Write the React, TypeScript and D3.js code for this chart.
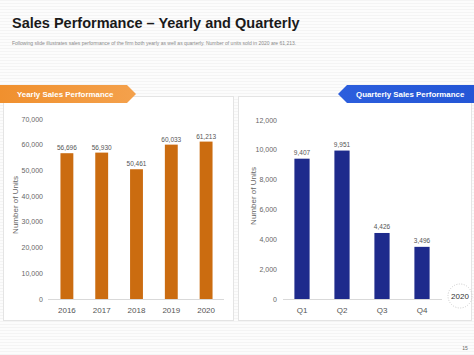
import React from "react";
import * as d3 from "d3";

const years = ["2016", "2017", "2018", "2019", "2020"];
const yearlyUnits = [56696, 56930, 50461, 60033, 61213];
const yearlyTicks = [0, 10000, 20000, 30000, 40000, 50000, 60000, 70000];

const quarters = ["Q1", "Q2", "Q3", "Q4"];
const quarterlyUnits = [9407, 9951, 4426, 3496];
const quarterlyTicks = [0, 2000, 4000, 6000, 8000, 10000, 12000];

const FONT = "'Liberation Sans', Arial, sans-serif";
const fmt = d3.format(",");

export default function App() {
  const W = 474, H = 355;

  const xL = d3.scaleBand<string>().domain(years).range([49.5, 223.5]).paddingInner(0.63).paddingOuter(0.315);
  const yL = d3.scaleLinear().domain([0, 70000]).range([299, 119]);
  const xR = d3.scaleBand<string>().domain(quarters).range([282, 442]).paddingInner(0.62).paddingOuter(0.31);
  const yR = d3.scaleLinear().domain([0, 12000]).range([299, 120]);

  const stripes = d3.range(0, H, 3);

  return (
    <svg width={W} height={H} style={{ position: "absolute", left: 0, top: 0, display: "block" }} fontFamily={FONT}>
      <rect x={0} y={0} width={W} height={H} fill="#fcfcfc" />
      {stripes.map((y) => (
        <line key={y} x1={0} x2={W} y1={y + 0.5} y2={y + 0.5} stroke="#f4f4f4" strokeWidth={1} />
      ))}

      <text x={12} y={28} fontSize={14.5} fontWeight="bold" fill="#1a1a1a">Sales Performance – Yearly and Quarterly</text>
      <text x={12} y={44.5} fontSize={5} fill="#8a8a8a">Following slide illustrates sales performance of the firm both yearly as well as quarterly. Number of units sold in 2020 are 61,213.</text>

      <rect x={3.5} y={96.5} width={230} height={224} fill="#ffffff" stroke="#e4e4e4" />
      <rect x={238.5} y={96.5} width={233} height={224} fill="#ffffff" stroke="#e4e4e4" />

      <defs>
        <linearGradient id="og" x1="0" x2="1" y1="0" y2="0">
          <stop offset="0" stopColor="#F0902E" />
          <stop offset="1" stopColor="#F4A14C" />
        </linearGradient>
        <linearGradient id="bg" x1="0" x2="1" y1="0" y2="0">
          <stop offset="0" stopColor="#2C5EDD" />
          <stop offset="1" stopColor="#2456D6" />
        </linearGradient>
      </defs>
      <path d="M0,85 L127,85 L136,94 L127,103 L0,103 Z" fill="url(#og)" />
      <text x={17} y={97} fontSize={7.9} fontWeight="bold" fill="#ffffff">Yearly Sales Performance</text>

      <path d="M474,85 L347,85 L338,94 L347,103 L474,103 Z" fill="url(#bg)" />
      <text x={356} y={97} fontSize={7.9} fontWeight="bold" fill="#ffffff">Quarterly Sales Performance</text>

      {/* Left chart */}
      <line x1={48} x2={224} y1={299.5} y2={299.5} stroke="#d9d9d9" />
      {yearlyTicks.map((t) => (
        <text key={t} x={43} y={yL(t) + 2.5} fontSize={7} fill="#666" textAnchor="end">{fmt(t)}</text>
      ))}
      <text transform={`translate(17.5,205) rotate(-90)`} fontSize={8} fill="#666" textAnchor="middle">Number of Units</text>
      {years.map((yr, i) => (
        <g key={yr}>
          <rect x={xL(yr)} y={yL(yearlyUnits[i])} width={xL.bandwidth()} height={yL(0) - yL(yearlyUnits[i])} fill="#CB6C10" />
          <text x={xL(yr)! + xL.bandwidth() / 2} y={yL(yearlyUnits[i]) - 3} fontSize={6.5} fill="#555" textAnchor="middle">{fmt(yearlyUnits[i])}</text>
          <text x={xL(yr)! + xL.bandwidth() / 2} y={313} fontSize={8} fill="#555" textAnchor="middle">{yr}</text>
        </g>
      ))}

      {/* Right chart */}
      <line x1={283} x2={442} y1={299.5} y2={299.5} stroke="#d9d9d9" />
      {quarterlyTicks.map((t) => (
        <text key={t} x={277} y={yR(t) + 2.5} fontSize={7} fill="#666" textAnchor="end">{fmt(t)}</text>
      ))}
      <text transform={`translate(255.5,196) rotate(-90)`} fontSize={8} fill="#666" textAnchor="middle">Number of Units</text>
      {quarters.map((q, i) => (
        <g key={q}>
          <rect x={xR(q)} y={yR(quarterlyUnits[i])} width={xR.bandwidth()} height={yR(0) - yR(quarterlyUnits[i])} fill="#1E2A8C" />
          <text x={xR(q)! + xR.bandwidth() / 2} y={yR(quarterlyUnits[i]) - 4} fontSize={6.5} fill="#555" textAnchor="middle">{fmt(quarterlyUnits[i])}</text>
          <text x={xR(q)! + xR.bandwidth() / 2} y={313} fontSize={8} fill="#555" textAnchor="middle">{q}</text>
        </g>
      ))}
      <circle cx={460} cy={296} r={12} fill="none" stroke="#cccccc" strokeDasharray="1,1.5" />
      <text x={460} y={299} fontSize={8} fill="#333" textAnchor="middle">2020</text>

      <text x={465} y={350} fontSize={5} fill="#666" textAnchor="middle">15</text>
    </svg>
  );
}
